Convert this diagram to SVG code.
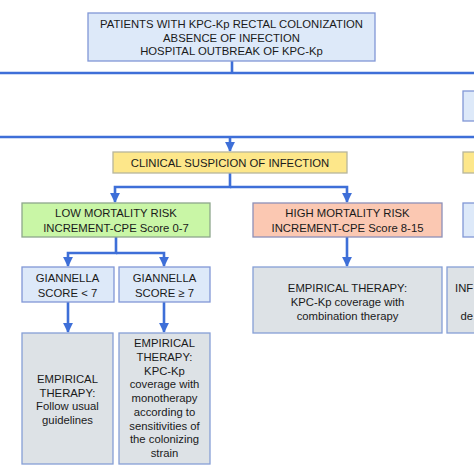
<svg xmlns="http://www.w3.org/2000/svg" width="474" height="474" viewBox="0 0 474 474">
<defs>
<style>
text{font-family:"Liberation Sans",Arial,sans-serif;font-size:11.3px;fill:#1a1a1a;text-anchor:middle}
.blue{fill:#dde9f9;stroke:#8197d6;stroke-width:1.3}
.yel{fill:#fde78a;stroke:#b7b59c;stroke-width:1.3}
.grn{fill:#c9f6a6;stroke:#8ea78c;stroke-width:1.3}
.org{fill:#fbc8b2;stroke:#8d90b8;stroke-width:1.3}
.gry{fill:#dde2e6;stroke:#869fd6;stroke-width:1.3}
.ln{fill:none;stroke:#3e6fd8;stroke-width:2.6}
</style>
<marker id="ah" viewBox="0 0 10 10" refX="9" refY="5" markerWidth="3.8" markerHeight="3.8" orient="auto" markerUnits="strokeWidth">
<path d="M0,0 L10,5 L0,10 z" fill="#3e6fd8"/>
</marker>
</defs>
<rect width="474" height="474" fill="#ffffff"/>

<g id="connectors">
<line class="ln" x1="232" y1="61" x2="232" y2="73"/>
<line class="ln" x1="0" y1="73" x2="474" y2="73"/>
<line class="ln" x1="0" y1="137" x2="474" y2="137"/>
<line class="ln" x1="230" y1="137" x2="230" y2="151" marker-end="url(#ah)"/>
<polyline class="ln" points="230,173 230,187 115,187 115,202" marker-end="url(#ah)"/>
<polyline class="ln" points="230,187 347,187 347,202" marker-end="url(#ah)"/>
<polyline class="ln" points="116,237 116,253 68,253 68,266" marker-end="url(#ah)"/>
<polyline class="ln" points="116,253 164,253 164,266" marker-end="url(#ah)"/>
<line class="ln" x1="68" y1="302" x2="68" y2="332" marker-end="url(#ah)"/>
<line class="ln" x1="164" y1="302" x2="164" y2="332" marker-end="url(#ah)"/>
<line class="ln" x1="347" y1="237" x2="347" y2="266" marker-end="url(#ah)"/>
</g>

<g id="top">
<rect class="blue" x="88" y="13" width="287" height="48"/>
<text x="231.5" y="28">PATIENTS WITH KPC-Kp RECTAL COLONIZATION</text>
<text x="231.5" y="41.5">ABSENCE OF INFECTION</text>
<text x="231.5" y="55">HOSPITAL OUTBREAK OF KPC-Kp</text>
</g>

<g id="right-top">
<rect class="blue" x="463" y="91" width="20" height="30"/>
</g>

<g id="clinical">
<rect class="yel" x="113" y="152" width="234" height="21"/>
<text x="230" y="166.5">CLINICAL SUSPICION OF INFECTION</text>
</g>

<g id="right-yellow">
<rect class="yel" x="463" y="152" width="20" height="21"/>
</g>

<g id="low">
<rect class="grn" x="22" y="203" width="188" height="34"/>
<text x="116" y="217">LOW MORTALITY RISK</text>
<text x="116" y="231.5">INCREMENT-CPE Score 0-7</text>
</g>

<g id="high">
<rect class="org" x="253" y="203" width="189" height="34"/>
<text x="347.5" y="217">HIGH MORTALITY RISK</text>
<text x="347.5" y="231.5">INCREMENT-CPE Score 8-15</text>
</g>

<g id="right-blue">
<rect class="blue" x="463" y="203" width="20" height="34"/>
</g>

<g id="gianLow">
<rect class="blue" x="22" y="267" width="92" height="35"/>
<text x="67.5" y="282">GIANNELLA</text>
<text x="67.5" y="296.5">SCORE &lt; 7</text>
</g>

<g id="gianHigh">
<rect class="blue" x="119" y="267" width="91" height="35"/>
<text x="164.5" y="282">GIANNELLA</text>
<text x="164.5" y="296.5">SCORE ≥ 7</text>
</g>

<g id="empLow">
<rect class="gry" x="22" y="333" width="91" height="131"/>
<text x="67.5" y="383">EMPIRICAL</text>
<text x="67.5" y="396.7">THERAPY:</text>
<text x="67.5" y="410.4">Follow usual</text>
<text x="67.5" y="424.1">guidelines</text>
</g>

<g id="empHigh">
<rect class="gry" x="119" y="333" width="91" height="131"/>
<text x="164.5" y="347.3">EMPIRICAL</text>
<text x="164.5" y="361">THERAPY:</text>
<text x="164.5" y="374.7">KPC-Kp</text>
<text x="164.5" y="388.4">coverage with</text>
<text x="164.5" y="402.1">monotherapy</text>
<text x="164.5" y="415.8">according to</text>
<text x="164.5" y="429.5">sensitivities of</text>
<text x="164.5" y="443.2">the colonizing</text>
<text x="164.5" y="456.9">strain</text>
</g>

<g id="empComb">
<rect class="gry" x="253" y="267" width="189" height="66"/>
<text x="347.5" y="292.3">EMPIRICAL THERAPY:</text>
<text x="347.5" y="306">KPC-Kp coverage with</text>
<text x="347.5" y="319.7">combination therapy</text>
</g>

<g id="right-gray">
<rect class="gry" x="447" y="267" width="40" height="66"/>
<text x="455" y="292.3" style="text-anchor:start">INF</text>
<text x="460.5" y="319.7" style="text-anchor:start">de</text>
</g>
</svg>
